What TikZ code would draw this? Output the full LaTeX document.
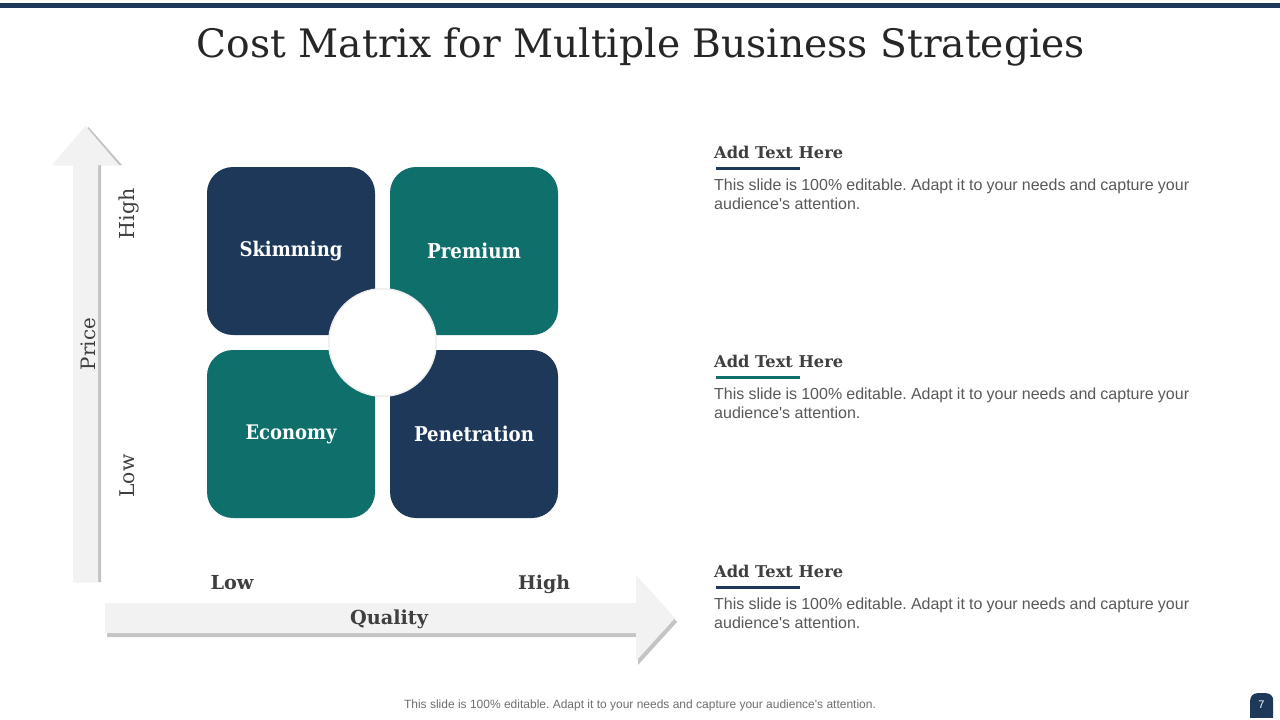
\documentclass[tikz,border=0pt]{standalone}
\usepackage{fontspec}
\usepackage{graphicx}
\setmainfont{DejaVu Serif}
\newfontfamily\arialf{Liberation Sans}
\newcommand\fitw[2]{\resizebox{#1}{!}{#2}}
\definecolor{navy}{HTML}{1D3859}
\definecolor{myteal}{HTML}{0E6F6B}
\definecolor{arrowgray}{HTML}{F2F2F2}
\definecolor{shadowgray}{HTML}{C4C4C4}
\definecolor{titlegray}{HTML}{262626}
\definecolor{headgray}{HTML}{3F3F3F}
\definecolor{bodygray}{HTML}{595959}
\definecolor{footgray}{HTML}{6F6F6F}
\tikzset{
  quad/.style={minimum size=168pt, rounded corners=26pt, inner sep=0pt, text=white,
    font=\bfseries\fontsize{20}{24}\selectfont},
  axislabel/.style={inner sep=0pt, text=headgray, font=\fontsize{20}{24}\selectfont},
  axisbold/.style={axislabel, font=\bfseries\fontsize{20}{24}\selectfont},
  headtext/.style={anchor=base west, inner sep=0pt, text=headgray, font=\bfseries\fontsize{18}{22}\selectfont},
  bodytext/.style={anchor=base west, inner sep=0pt, text=bodygray, font=\arialf\fontsize{16}{19}\selectfont},
}
\begin{document}
\frenchspacing
\begin{tikzpicture}[x=1pt,y=-1pt]
\useasboundingbox (0,0) rectangle (1280,720);
\fill[white] (0,0) rectangle (1280,720);
\fill[navy] (0,3) rectangle (1280,7.5);

\node[anchor=base, inner sep=0pt, text=titlegray, font=\fontsize{34}{40}\selectfont] (title) at (641,57)
  {\fitw{888pt}{Cost Matrix for Multiple Business Strategies}};

% vertical arrow
\fill[shadowgray] (76,582) -- (76,165) -- (55,165) -- (88.5,127) -- (122,165) -- (101,165) -- (101,582) -- cycle;
\fill[arrowgray] (73,582) -- (73,165) -- (52,165) -- (85.5,126) -- (119,165) -- (98,165) -- (98,582) -- cycle;
% horizontal arrow
\fill[shadowgray] (107,607) -- (638,607) -- (638,579) -- (677,622) -- (638,665) -- (638,637) -- (107,637) -- cycle;
\fill[arrowgray] (105,603) -- (636,603) -- (636,575) -- (675,618) -- (636,661) -- (636,633) -- (105,633) -- cycle;

% quadrants
\node[quad, fill=navy]   (skim) at (291,251) {\scalebox{1}[1.12]{\fitw{103pt}{Skimming}}};
\node[quad, fill=myteal] (prem) at (474,251) {\scalebox{1}[1.12]{\fitw{94pt}{Premium}}};
\node[quad, fill=myteal] (econ) at (291,434) {\scalebox{1}[1.12]{\fitw{91pt}{Economy}}};
\node[quad, fill=navy]   (pene) at (474,434) {\scalebox{1}[1.12]{\fitw{120pt}{Penetration}}};
\fill[black!7] (382.5,342.5) circle (54.5);
\node[circle, fill=white, minimum size=106pt, inner sep=0pt] (hub) at (382.5,342.5) {};

% axis labels
\node[axislabel, rotate=90, anchor=base] (phigh) at (134,214) {\fitw{51pt}{High}};
\node[axislabel, rotate=90, anchor=base] (price) at (95,344) {\fitw{52pt}{Price}};
\node[axislabel, rotate=90, anchor=base] (plow) at (134,476) {\fitw{43pt}{Low}};
\node[axisbold, anchor=base] (qlow) at (232,589) {\fitw{43pt}{Low}};
\node[axisbold, anchor=base] (qhigh) at (544,589) {\fitw{52pt}{High}};
\node[axisbold, anchor=base] (quality) at (389,624) {\fitw{78pt}{Quality}};

% text blocks
\foreach \i/\dy/\c in {1/0/navy, 2/209/myteal, 3/419/navy}{
  \node[headtext] (h\i) at (714,158+\dy) {\fitw{129pt}{Add Text Here}};
  \draw[\c, line width=3pt] (716,168+\dy) -- (800,168+\dy);
  \node[bodytext] (ba\i) at (714,190+\dy) {\makebox[475pt][s]{This slide is 100\% editable. Adapt it to your needs and capture your}};
  \node[bodytext] (bb\i) at (714,209+\dy) {audience's attention.};
}

% footer
\node[anchor=base, inner sep=0pt, text=footgray, font=\arialf\fontsize{12}{14}\selectfont] (foot) at (640,708)
  {This slide is 100\% editable. Adapt it to your needs and capture your audience's attention.};
\begin{scope}
\clip (1240,688) rectangle (1280,717);
\node[fill=navy, rounded corners=7pt, minimum width=23pt, minimum height=36pt, inner sep=0pt, anchor=north west] (badge) at (1250,693) {};
\end{scope}
\node[inner sep=0pt, text=white, font=\arialf\fontsize{11}{13}\selectfont] (pnum) at (1261.5,705) {7};
\end{tikzpicture}
\end{document}
